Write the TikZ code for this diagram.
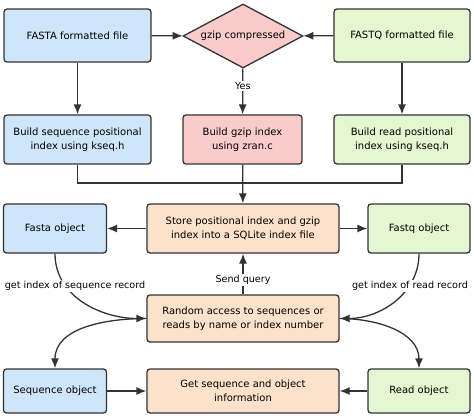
\documentclass[tikz,border=0pt]{standalone}
\usepackage{fontspec}
\setmainfont{DejaVu Sans}
\usetikzlibrary{arrows.meta,shapes.geometric}

\begin{document}
\begin{tikzpicture}[x=1pt,y=-1pt,>={Latex[length=10pt,width=8pt]},
	box/.style={draw=linegray,line width=1.3pt,rounded corners=3pt,align=center,
		inner sep=2pt,font=\fontsize{10}{14}\selectfont},
	lbl/.style={fill=white,inner sep=1.5pt,font=\fontsize{9.6}{12}\selectfont},
	conn/.style={draw=linegray,line width=1.3pt}]

\definecolor{linegray}{rgb}{0.2,0.2,0.2}
\definecolor{bluefill}{RGB}{207,229,250}
\definecolor{redfill}{RGB}{249,203,203}
\definecolor{greenfill}{RGB}{229,247,208}
\definecolor{orangefill}{RGB}{253,226,203}

\useasboundingbox (0,0) rectangle (474,418);

\node[box,fill=bluefill,minimum width=147pt,minimum height=53pt] (fasta) at (77.5,35.5) {FASTA formatted file};
\node[box,diamond,aspect=1.875,fill=redfill,minimum width=120pt,minimum height=64pt,
	inner sep=0pt,rounded corners=0pt] (gzip) at (243,36) {gzip compressed};
\node[box,fill=greenfill,minimum width=136pt,minimum height=53pt] (fastq) at (402,35.5) {FASTQ formatted file};

\node[box,fill=bluefill,minimum width=147pt,minimum height=49pt] (seqidx) at (77.5,139.5) {Build sequence positional\\index using kseq.h};
\node[box,fill=redfill,minimum width=119pt,minimum height=49pt] (gzidx) at (242.5,139.5) {Build gzip index\\using zran.c};
\node[box,fill=greenfill,minimum width=136pt,minimum height=49pt] (readidx) at (402,139.5) {Build read positional\\index using kseq.h};

\node[box,fill=bluefill,minimum width=103pt,minimum height=49pt] (fastaobj) at (55,228.5) {Fasta object};
\node[box,fill=orangefill,minimum width=192pt,minimum height=49pt] (store) at (243,228.5) {Store positional index and gzip\\index into a SQLite index file};
\node[box,fill=greenfill,minimum width=102pt,minimum height=49pt] (fastqobj) at (419,228.5) {Fastq object};

\node[box,fill=orangefill,minimum width=192pt,minimum height=47pt] (random) at (243,318.5) {Random access to sequences or\\reads by name or index number};

\node[box,fill=bluefill,minimum width=103pt,minimum height=44pt] (seqobj) at (55,391) {Sequence object};
\node[box,fill=orangefill,minimum width=192pt,minimum height=44pt] (getinfo) at (243,391) {Get sequence and object\\information};
\node[box,fill=greenfill,minimum width=102pt,minimum height=44pt] (readobj) at (419,391) {Read object};

\draw[conn,->] (fasta) -- (gzip);
\draw[conn,->] (fastq) -- (gzip);
\draw[conn,->] (fasta) -- (seqidx);
\draw[conn,->] (gzip) -- node[lbl,pos=0.38] (yes) {Yes} (gzidx);
\draw[conn,->] (fastq) -- (readidx);

\coordinate (join) at (242.5,183);
\draw[conn] (seqidx.south) |- (join) -| (readidx.south);
\draw[conn,->] (gzidx) -- (store);

\draw[conn,->] (store) -- (fastaobj);
\draw[conn,->] (store) -- (fastqobj);
\draw[conn,->] (random) -- node[lbl,pos=0.36] (query) {Send query} (store);

\draw[conn,->] (fastaobj.south) to[out=-90,in=180] (random.west);
\draw[conn,->] (random.west) to[out=180,in=90] (seqobj.north);
\draw[conn,->] (fastqobj.south) to[out=-90,in=0] (random.east);
\draw[conn,->] (random.east) to[out=0,in=90] (readobj.north);

\node[lbl] (getseq) at (75,286) {get index of sequence record};
\node[lbl] (getread) at (410,286) {get index of read record};

\draw[conn,->] (seqobj) -- (getinfo);
\draw[conn,->] (readobj) -- (getinfo);

\end{tikzpicture}
\end{document}
